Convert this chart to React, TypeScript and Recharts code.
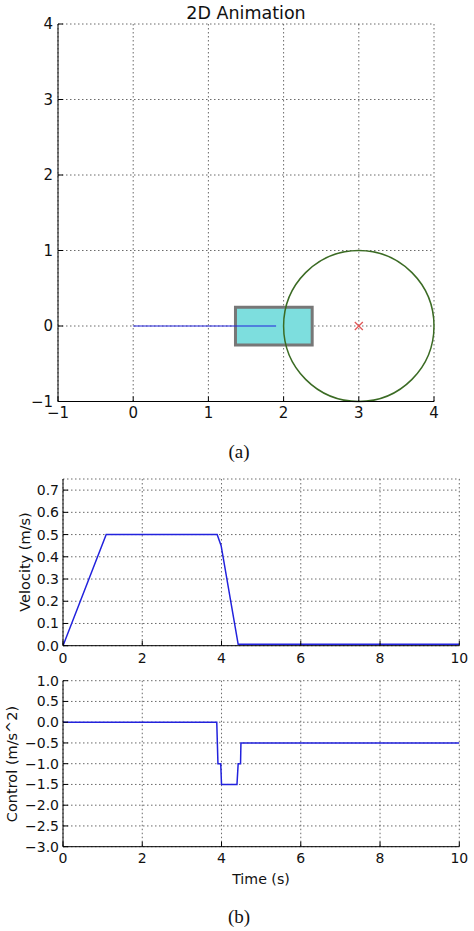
import React from 'react';
import {
  ComposedChart,
  LineChart,
  Line,
  XAxis,
  YAxis,
  CartesianGrid,
  ReferenceArea,
  ReferenceDot,
} from 'recharts';

// ---------- data ----------
const animTicks = [-1, 0, 1, 2, 3, 4];
const pathX = [0, 1.9];
const pathY = [0, 0];
const cartX = [1.36, 2.38];
const cartY = [-0.25, 0.25];
const targetCenter = [3, 0];
const targetRadius = 1;

const timeTicks = [0, 2, 4, 6, 8, 10];
const velTicks = [0, 0.1, 0.2, 0.3, 0.4, 0.5, 0.6, 0.7];
const velTime = [0, 1.09, 3.89, 3.99, 4.42, 10];
const velValue = [0, 0.5, 0.5, 0.45, 0.006, 0.006];

const ctrlTicks = [1, 0.5, 0, -0.5, -1, -1.5, -2, -2.5, -3];
const ctrlTime = [0, 3.88, 3.91, 3.98, 4.0, 4.39, 4.42, 4.48, 4.49, 10];
const ctrlValue = [0, 0, -1, -1, -1.5, -1.5, -1, -1, -0.5, -0.5];

// ---------- styles ----------
const FONT = "'DejaVu Sans', sans-serif";
const SERIF = "'Liberation Serif', 'DejaVu Serif', serif";
const gridStyle = { stroke: '#444', strokeDasharray: '1.5 2.5', strokeWidth: 0.8 };
const LINE_BLUE = '#2222dd';
const minus = (v: number | string) => String(v).replace('-', '\u2212');
const fmt1 = (v: number) => minus(v.toFixed(1));
const blank = () => '';

const pathData = pathX.map((x, i) => ({ x, y: pathY[i] }));
const velData = velTime.map((t, i) => ({ t, v: velValue[i] }));
const ctrlData = ctrlTime.map((t, i) => ({ t, u: ctrlValue[i] }));

const CircleShape = (props: any) => {
  const { x, y, width, height } = props;
  const w = Math.abs(width);
  const h = Math.abs(height);
  const x0 = width < 0 ? x + width : x;
  const y0 = height < 0 ? y + height : y;
  return (
    <ellipse
      cx={x0 + w / 2}
      cy={y0 + h / 2}
      rx={w / 2}
      ry={h / 2}
      fill="none"
      stroke="#3b6b24"
      strokeWidth={1.5}
    />
  );
};

const XMark = (props: any) => {
  const { cx, cy } = props;
  const s = 4;
  return (
    <g stroke="#e05555" strokeWidth={1.2}>
      <line x1={cx - s} y1={cy - s} x2={cx + s} y2={cy + s} />
      <line x1={cx - s} y1={cy + s} x2={cx + s} y2={cy - s} />
    </g>
  );
};

const axisCommon = {
  axisLine: { stroke: '#000', strokeWidth: 1 },
  tickLine: { stroke: '#000', strokeWidth: 1 },
  tickSize: -5,
  interval: 0 as const,
};

function AnimationChart() {
  const tick = { fill: '#111', fontSize: 15, fontFamily: FONT };
  return (
    <ComposedChart
      width={474}
      height={430}
      data={pathData}
      margin={{ top: 24, right: 40, bottom: 0, left: 0 }}
    >
      <XAxis
        type="number"
        dataKey="x"
        domain={[-1, 4]}
        ticks={animTicks}
        allowDataOverflow
        height={28.5}
        tickMargin={10.5}
        tick={tick}
        tickFormatter={minus}
        {...axisCommon}
      />
      <XAxis
        xAxisId="top"
        orientation="top"
        type="number"
        dataKey="x"
        domain={[-1, 4]}
        ticks={animTicks}
        allowDataOverflow
        height={0}
        tickFormatter={blank}
        {...axisCommon}
      />
      <YAxis
        type="number"
        domain={[-1, 4]}
        ticks={animTicks}
        allowDataOverflow
        width={58}
        tickMargin={10}
        tick={tick}
        tickFormatter={minus}
        {...axisCommon}
      />
      <YAxis
        yAxisId="right"
        orientation="right"
        type="number"
        domain={[-1, 4]}
        ticks={animTicks}
        allowDataOverflow
        width={0}
        tickFormatter={blank}
        {...axisCommon}
      />
      <ReferenceArea
        x1={cartX[0]}
        x2={cartX[1]}
        y1={cartY[0]}
        y2={cartY[1]}
        fill="#7ddede"
        fillOpacity={1}
        stroke="#777"
        strokeWidth={3}
        ifOverflow="visible"
      />
      <ReferenceArea
        x1={targetCenter[0] - targetRadius}
        x2={targetCenter[0] + targetRadius}
        y1={targetCenter[1] - targetRadius}
        y2={targetCenter[1] + targetRadius}
        shape={CircleShape}
        ifOverflow="visible"
      />
      <Line
        dataKey="y"
        stroke={LINE_BLUE}
        strokeWidth={1}
        dot={false}
        isAnimationActive={false}
      />
      <ReferenceDot
        x={targetCenter[0]}
        y={targetCenter[1]}
        shape={XMark}
        ifOverflow="visible"
      />
      <CartesianGrid {...gridStyle} />
    </ComposedChart>
  );
}

function VelocityChart() {
  const tick = { fill: '#111', fontSize: 14, fontFamily: FONT };
  return (
    <LineChart
      width={474}
      height={205}
      data={velData}
      margin={{ top: 19, right: 14.7, bottom: 0, left: 0 }}
    >
      <XAxis
        type="number"
        dataKey="t"
        domain={[0, 10]}
        ticks={timeTicks}
        allowDataOverflow
        height={19.3}
        tickMargin={12}
        tick={tick}
        {...axisCommon}
      />
      <XAxis
        xAxisId="top"
        orientation="top"
        type="number"
        dataKey="t"
        domain={[0, 10]}
        ticks={timeTicks}
        allowDataOverflow
        height={0}
        tickFormatter={blank}
        {...axisCommon}
      />
      <YAxis
        type="number"
        domain={[0, 0.75]}
        ticks={velTicks}
        allowDataOverflow
        width={63}
        tickMargin={9}
        tick={tick}
        tickFormatter={fmt1}
        {...axisCommon}
      />
      <YAxis
        yAxisId="right"
        orientation="right"
        type="number"
        domain={[0, 0.75]}
        ticks={velTicks}
        allowDataOverflow
        width={0}
        tickFormatter={blank}
        {...axisCommon}
      />
      <CartesianGrid {...gridStyle} />
      <Line
        dataKey="v"
        stroke={LINE_BLUE}
        strokeWidth={1.5}
        dot={false}
        isAnimationActive={false}
      />
    </LineChart>
  );
}

function ControlChart() {
  const tick = { fill: '#111', fontSize: 14, fontFamily: FONT };
  return (
    <LineChart
      width={474}
      height={230}
      data={ctrlData}
      margin={{ top: 15.7, right: 14.7, bottom: 0, left: 0 }}
    >
      <XAxis
        type="number"
        dataKey="t"
        domain={[0, 10]}
        ticks={timeTicks}
        allowDataOverflow
        height={48.3}
        tickMargin={11.5}
        tick={tick}
        {...axisCommon}
      />
      <XAxis
        xAxisId="top"
        orientation="top"
        type="number"
        dataKey="t"
        domain={[0, 10]}
        ticks={timeTicks}
        allowDataOverflow
        height={0}
        tickFormatter={blank}
        {...axisCommon}
      />
      <YAxis
        type="number"
        domain={[-3, 1]}
        ticks={ctrlTicks}
        allowDataOverflow
        width={63}
        tickMargin={9}
        tick={tick}
        tickFormatter={fmt1}
        {...axisCommon}
      />
      <YAxis
        yAxisId="right"
        orientation="right"
        type="number"
        domain={[-3, 1]}
        ticks={ctrlTicks}
        allowDataOverflow
        width={0}
        tickFormatter={blank}
        {...axisCommon}
      />
      <CartesianGrid {...gridStyle} />
      <Line
        dataKey="u"
        stroke={LINE_BLUE}
        strokeWidth={1.5}
        dot={false}
        isAnimationActive={false}
      />
    </LineChart>
  );
}

export default function App() {
  return (
    <div
      style={{
        position: 'absolute',
        left: 0,
        top: 0,
        width: 474,
        height: 931,
        background: '#fff',
        overflow: 'hidden',
      }}
    >
      <div style={{ position: 'absolute', left: 0, top: 0 }}>
        <AnimationChart />
      </div>
      <div style={{ position: 'absolute', left: 0, top: 460 }}>
        <VelocityChart />
      </div>
      <div style={{ position: 'absolute', left: 0, top: 665 }}>
        <ControlChart />
      </div>
      <svg
        width={474}
        height={931}
        style={{ position: 'absolute', left: 0, top: 0, pointerEvents: 'none' }}
      >
        <text x={246} y={19} textAnchor="middle" fontFamily={FONT} fontSize={17.5} fill="#111">
          2D Animation
        </text>
        <text x={239} y={458} textAnchor="middle" fontFamily={SERIF} fontSize={19} fill="#111">
          (a)
        </text>
        <text
          x={25}
          y={562}
          textAnchor="middle"
          dominantBaseline="central"
          transform="rotate(-90 25 562)"
          fontFamily={FONT}
          fontSize={14.5}
          fill="#111"
        >
          Velocity (m/s)
        </text>
        <text
          x={12}
          y={764}
          textAnchor="middle"
          dominantBaseline="central"
          transform="rotate(-90 12 764)"
          fontFamily={FONT}
          fontSize={14.5}
          fill="#111"
        >
          Control (m/s^2)
        </text>
        <text x={261} y={884} textAnchor="middle" fontFamily={FONT} fontSize={14.2} fill="#111">
          Time (s)
        </text>
        <text x={239} y={923} textAnchor="middle" fontFamily={SERIF} fontSize={19} fill="#111">
          (b)
        </text>
      </svg>
    </div>
  );
}
